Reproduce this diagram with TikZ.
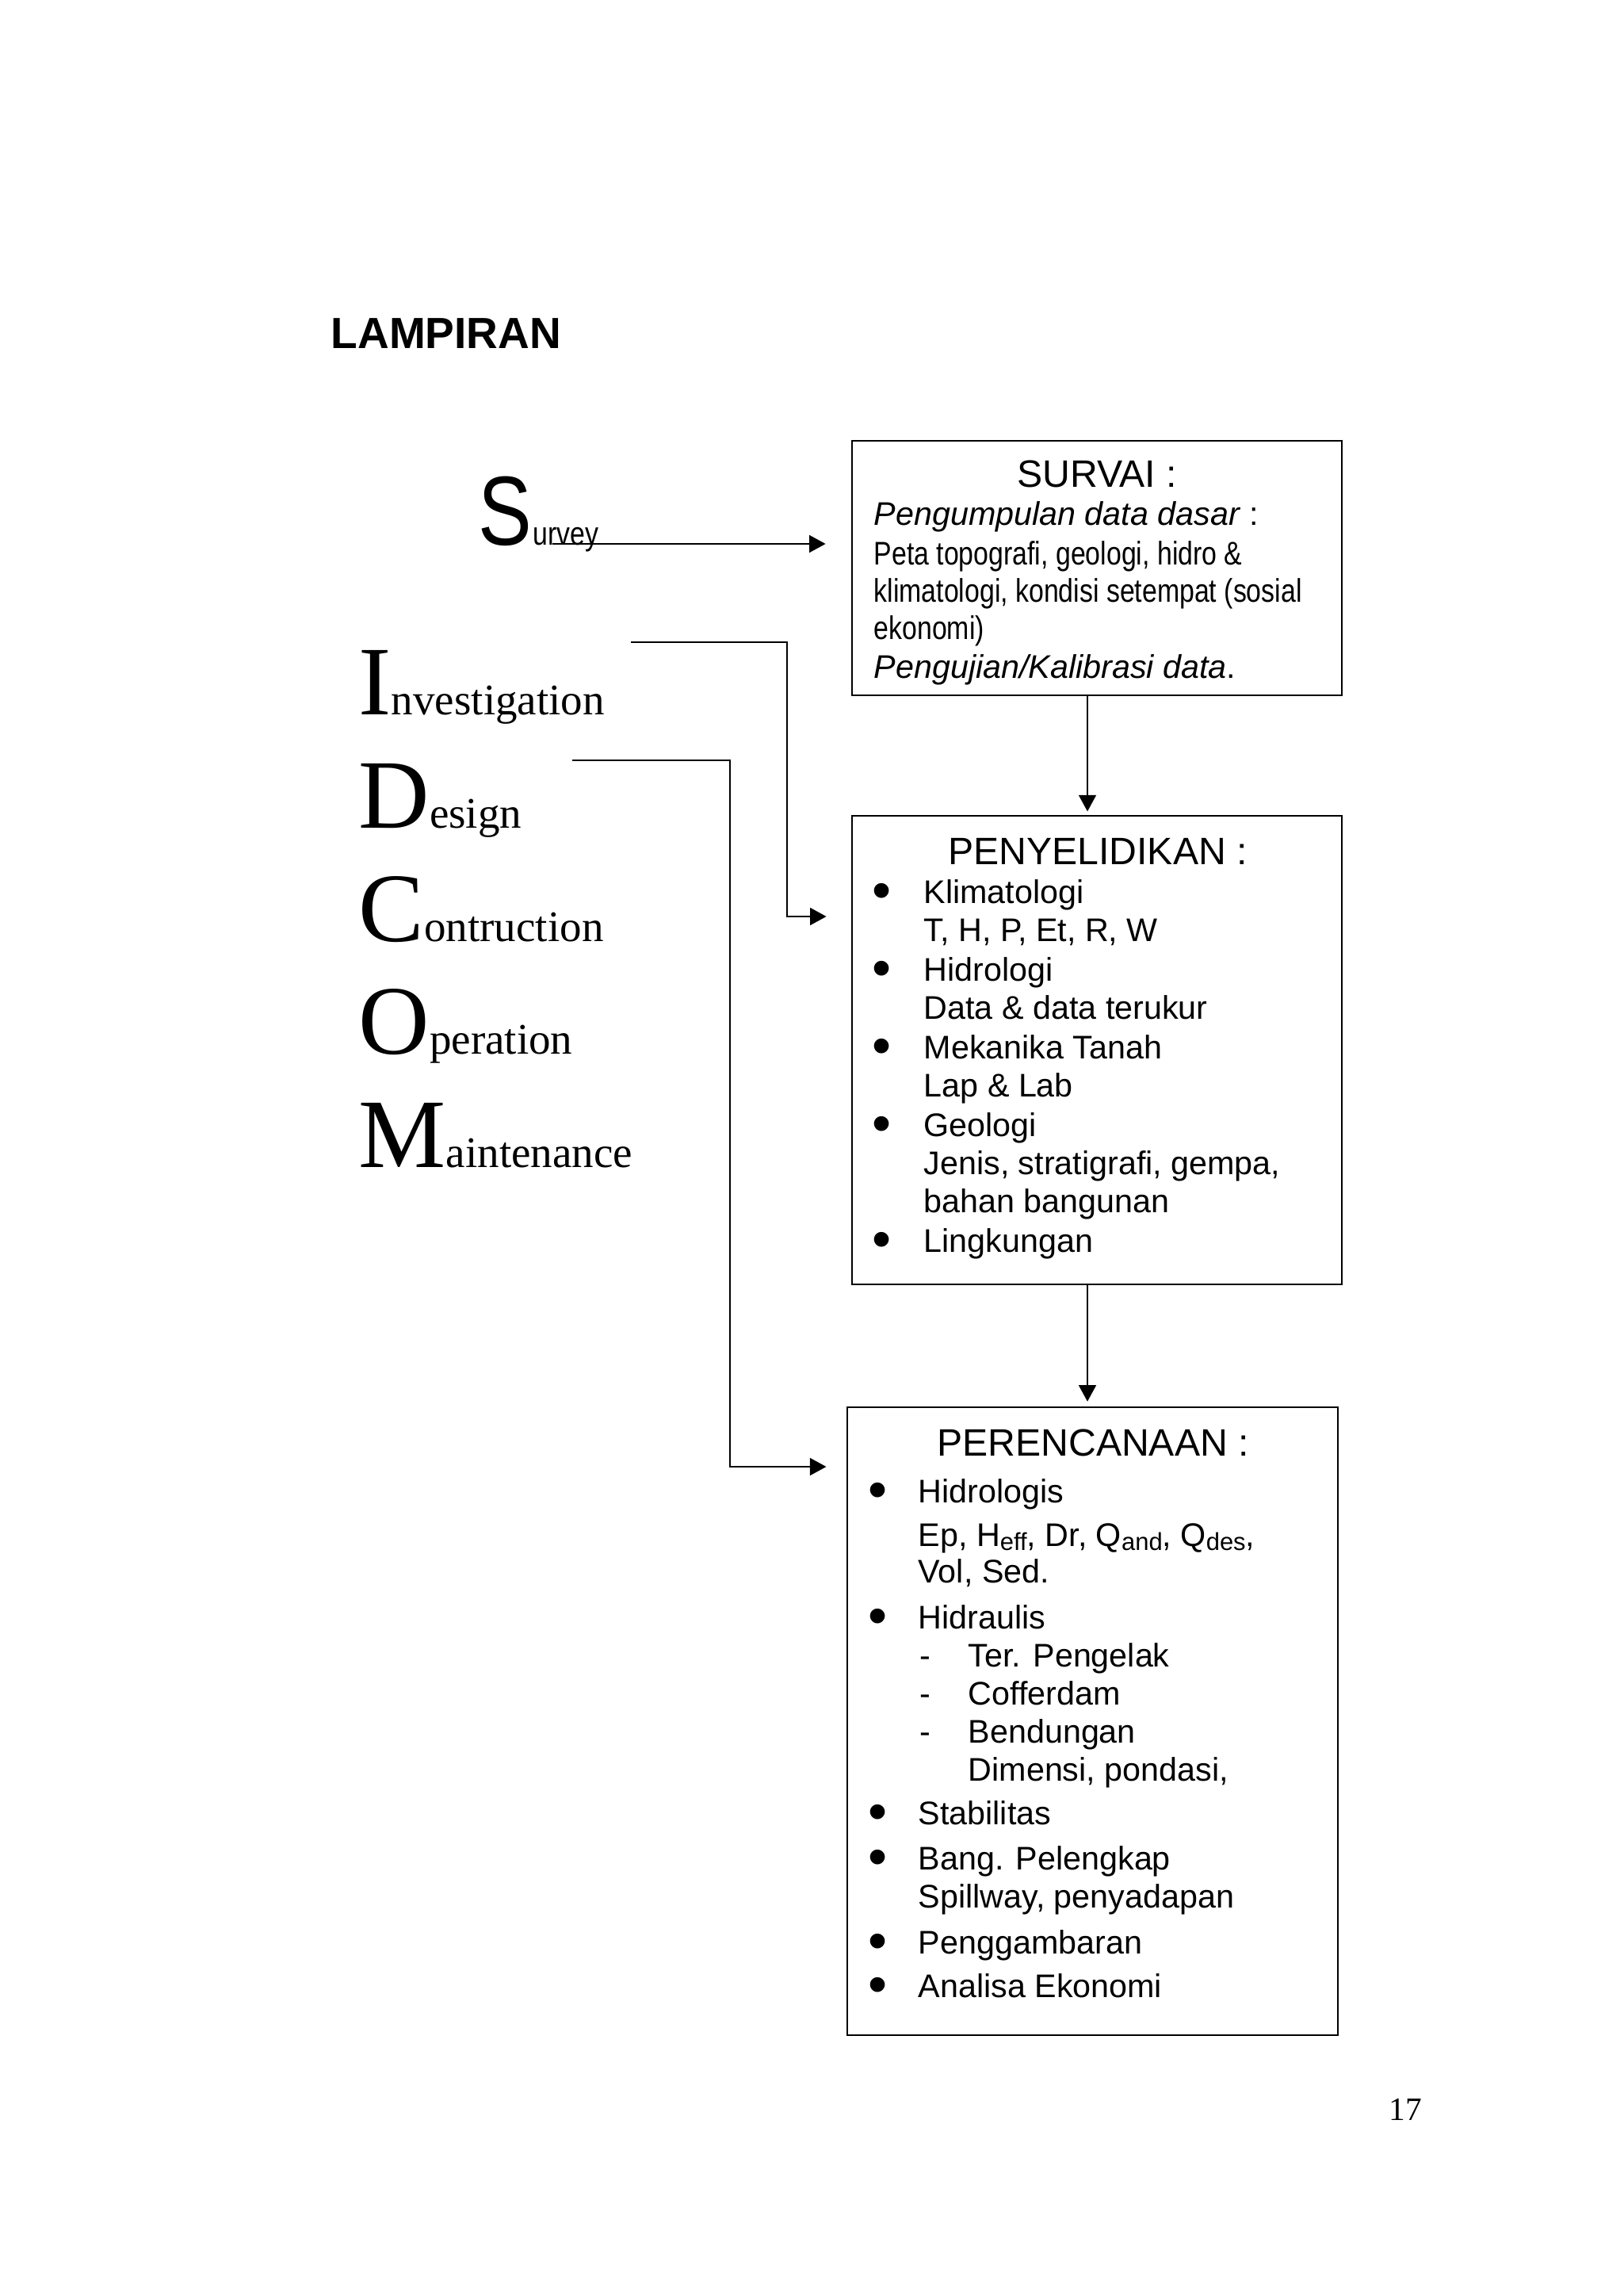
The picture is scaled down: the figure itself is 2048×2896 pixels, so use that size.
\documentclass[tikz,border=0pt]{standalone}
\usepackage{fontspec}
\setmainfont{Liberation Sans}
\newfontfamily\narrowfont[FakeStretch=0.82]{Liberation Sans}
\newfontfamily\timesfont{Liberation Serif}
\usetikzlibrary{arrows.meta}
\newcommand\subx[1]{\raisebox{-1.6pt}{\fontsize{9}{9}\selectfont #1}}
\tikzset{
  box/.style={draw, line width=0.8pt, inner sep=0pt},
  txt/.style={anchor=base west, inner sep=0pt, font=\fontsize{12}{14}\selectfont},
  nar/.style={anchor=base west, inner sep=0pt, font=\narrowfont\fontsize{12}{14}\selectfont},
  ttl/.style={anchor=base, inner sep=0pt, font=\fontsize{14}{16}\selectfont},
  bul/.style={anchor=base, inner sep=0pt, yshift=-2.2pt, font=\fontsize{20}{22}\selectfont},
  capword/.style={anchor=base west, inner sep=0pt, font=\timesfont\fontsize{36}{40}\selectfont},
  conn/.style={line width=0.8pt, -{Triangle[length=6pt,width=6.3pt]}}
}
\begin{document}
\begin{tikzpicture}[x=0.29068pt, y=-0.29068pt]
\useasboundingbox[fill=white] (0,0) rectangle (2048,2896);

% title
\node[anchor=base west, inner sep=0pt, font=\bfseries\fontsize{16}{18}\selectfont] (lamp) at (417,440) {LAMPIRAN};

% left acronym
\node[anchor=base west, inner sep=0pt, font=\narrowfont\fontsize{36}{40}\selectfont] (sS) at (603,688) {S};
\node[nar] (sU) at (672,688) {urvey};
\node[capword] (wI) at (452,901) {I{\fontsize{16}{18}\selectfont nvestigation}};
\node[capword] (wD) at (452,1044) {D{\fontsize{16}{18}\selectfont esign}};
\node[capword] (wC) at (452,1187) {C{\fontsize{16}{18}\selectfont ontruction}};
\node[capword] (wO) at (452,1329) {O{\fontsize{16}{18}\selectfont peration}};
\node[capword] (wM) at (452,1472) {M{\fontsize{16}{18}\selectfont aintenance}};

% boxes
\node[box, minimum width=179.64pt, minimum height=93.31pt] (b1) at (1384,716.5) {};
\node[box, minimum width=179.64pt, minimum height=171.79pt] (b2) at (1384,1324.5) {};
\node[box, minimum width=179.93pt, minimum height=230.22pt] (b3) at (1378.5,2171) {};

% box 1 text
\node[ttl] (t1) at (1384,615) {SURVAI :};
\node[txt] (s1) at (1102,663) {\textit{Pengumpulan data dasar} :};
\node[nar] (s2) at (1102,712) {Peta topografi, geologi, hidro \&};
\node[nar] (s3) at (1102,759) {klimatologi, kondisi setempat (sosial};
\node[nar] (s4) at (1102,807) {ekonomi)};
\node[txt] (s5) at (1102,855) {\textit{Pengujian/Kalibrasi data}.};

% box 2 text
\node[ttl] (t2) at (1385,1090) {PENYELIDIKAN :};
\node[bul] (p1b) at (1113,1139) {•};
\node[txt] (p1) at (1165,1139) {Klimatologi};
\node[txt] (p1a) at (1165,1187) {T, H, P, Et, R, W};
\node[bul] (p2b) at (1113,1237) {•};
\node[txt] (p2) at (1165,1237) {Hidrologi};
\node[txt] (p2a) at (1165,1285) {Data \& data terukur};
\node[bul] (p3b) at (1113,1335) {•};
\node[txt] (p3) at (1165,1335) {Mekanika Tanah};
\node[txt] (p3a) at (1165,1383) {Lap \& Lab};
\node[bul] (p4b) at (1113,1433) {•};
\node[txt] (p4) at (1165,1433) {Geologi};
\node[txt] (p4a) at (1165,1481) {Jenis, stratigrafi, gempa,};
\node[txt] (p4c) at (1165,1529) {bahan bangunan};
\node[bul] (p5b) at (1113,1579) {•};
\node[txt] (p5) at (1165,1579) {Lingkungan};

% box 3 text
\node[ttl] (t3) at (1379,1836) {PERENCANAAN :};
\node[bul] (r1b) at (1108,1895) {•};
\node[txt] (r1) at (1158,1895) {Hidrologis};
\node[txt] (r1a) at (1158,1950) {Ep, H\subx{eff}, Dr, Q\subx{and}, Q\subx{des},};
\node[txt] (r1c) at (1158,1996) {Vol, Sed.};
\node[bul] (r2b) at (1108,2054) {•};
\node[txt] (r2) at (1158,2054) {Hidraulis};
\node[txt] (r2d1) at (1160,2102) {-};
\node[txt] (r2a) at (1221,2102) {Ter. Pengelak};
\node[txt] (r2d2) at (1160,2150) {-};
\node[txt] (r2c) at (1221,2150) {Cofferdam};
\node[txt] (r2d3) at (1160,2198) {-};
\node[txt] (r2e) at (1221,2198) {Bendungan};
\node[txt] (r2f) at (1221,2246) {Dimensi, pondasi,};
\node[bul] (r3b) at (1108,2301) {•};
\node[txt] (r3) at (1158,2301) {Stabilitas};
\node[bul] (r4b) at (1108,2358) {•};
\node[txt] (r4) at (1158,2358) {Bang. Pelengkap};
\node[txt] (r4a) at (1158,2406) {Spillway, penyadapan};
\node[bul] (r5b) at (1108,2464) {•};
\node[txt] (r5) at (1158,2464) {Penggambaran};
\node[bul] (r6b) at (1108,2519) {•};
\node[txt] (r6) at (1158,2519) {Analisa Ekonomi};

% page number
\node[anchor=base west, inner sep=0pt, font=\timesfont\fontsize{12}{14}\selectfont] (pg) at (1752,2674) {17};

% connectors
\coordinate (sv) at (697,686);
\coordinate (iv) at (796,810);
\coordinate (ivk) at (993,1156);
\coordinate (ds) at (722,959);
\coordinate (dsk) at (921,1850);
\coordinate (ax) at (1372,0);

\draw[conn, shorten >=9.3pt] (sv) -- (sv -| b1.west);
\draw[conn, shorten >=9pt] (iv) -| (ivk) -- (ivk -| b2.west);
\draw[conn, shorten >=7.3pt] (ds) -| (dsk) -- (dsk -| b3.west);
\draw[conn, shorten >=1.2pt] (ax |- b1.south) -- (ax |- b2.north);
\draw[conn, shorten >=1.7pt] (ax |- b2.south) -- (ax |- b3.north);
\end{tikzpicture}
\end{document}
